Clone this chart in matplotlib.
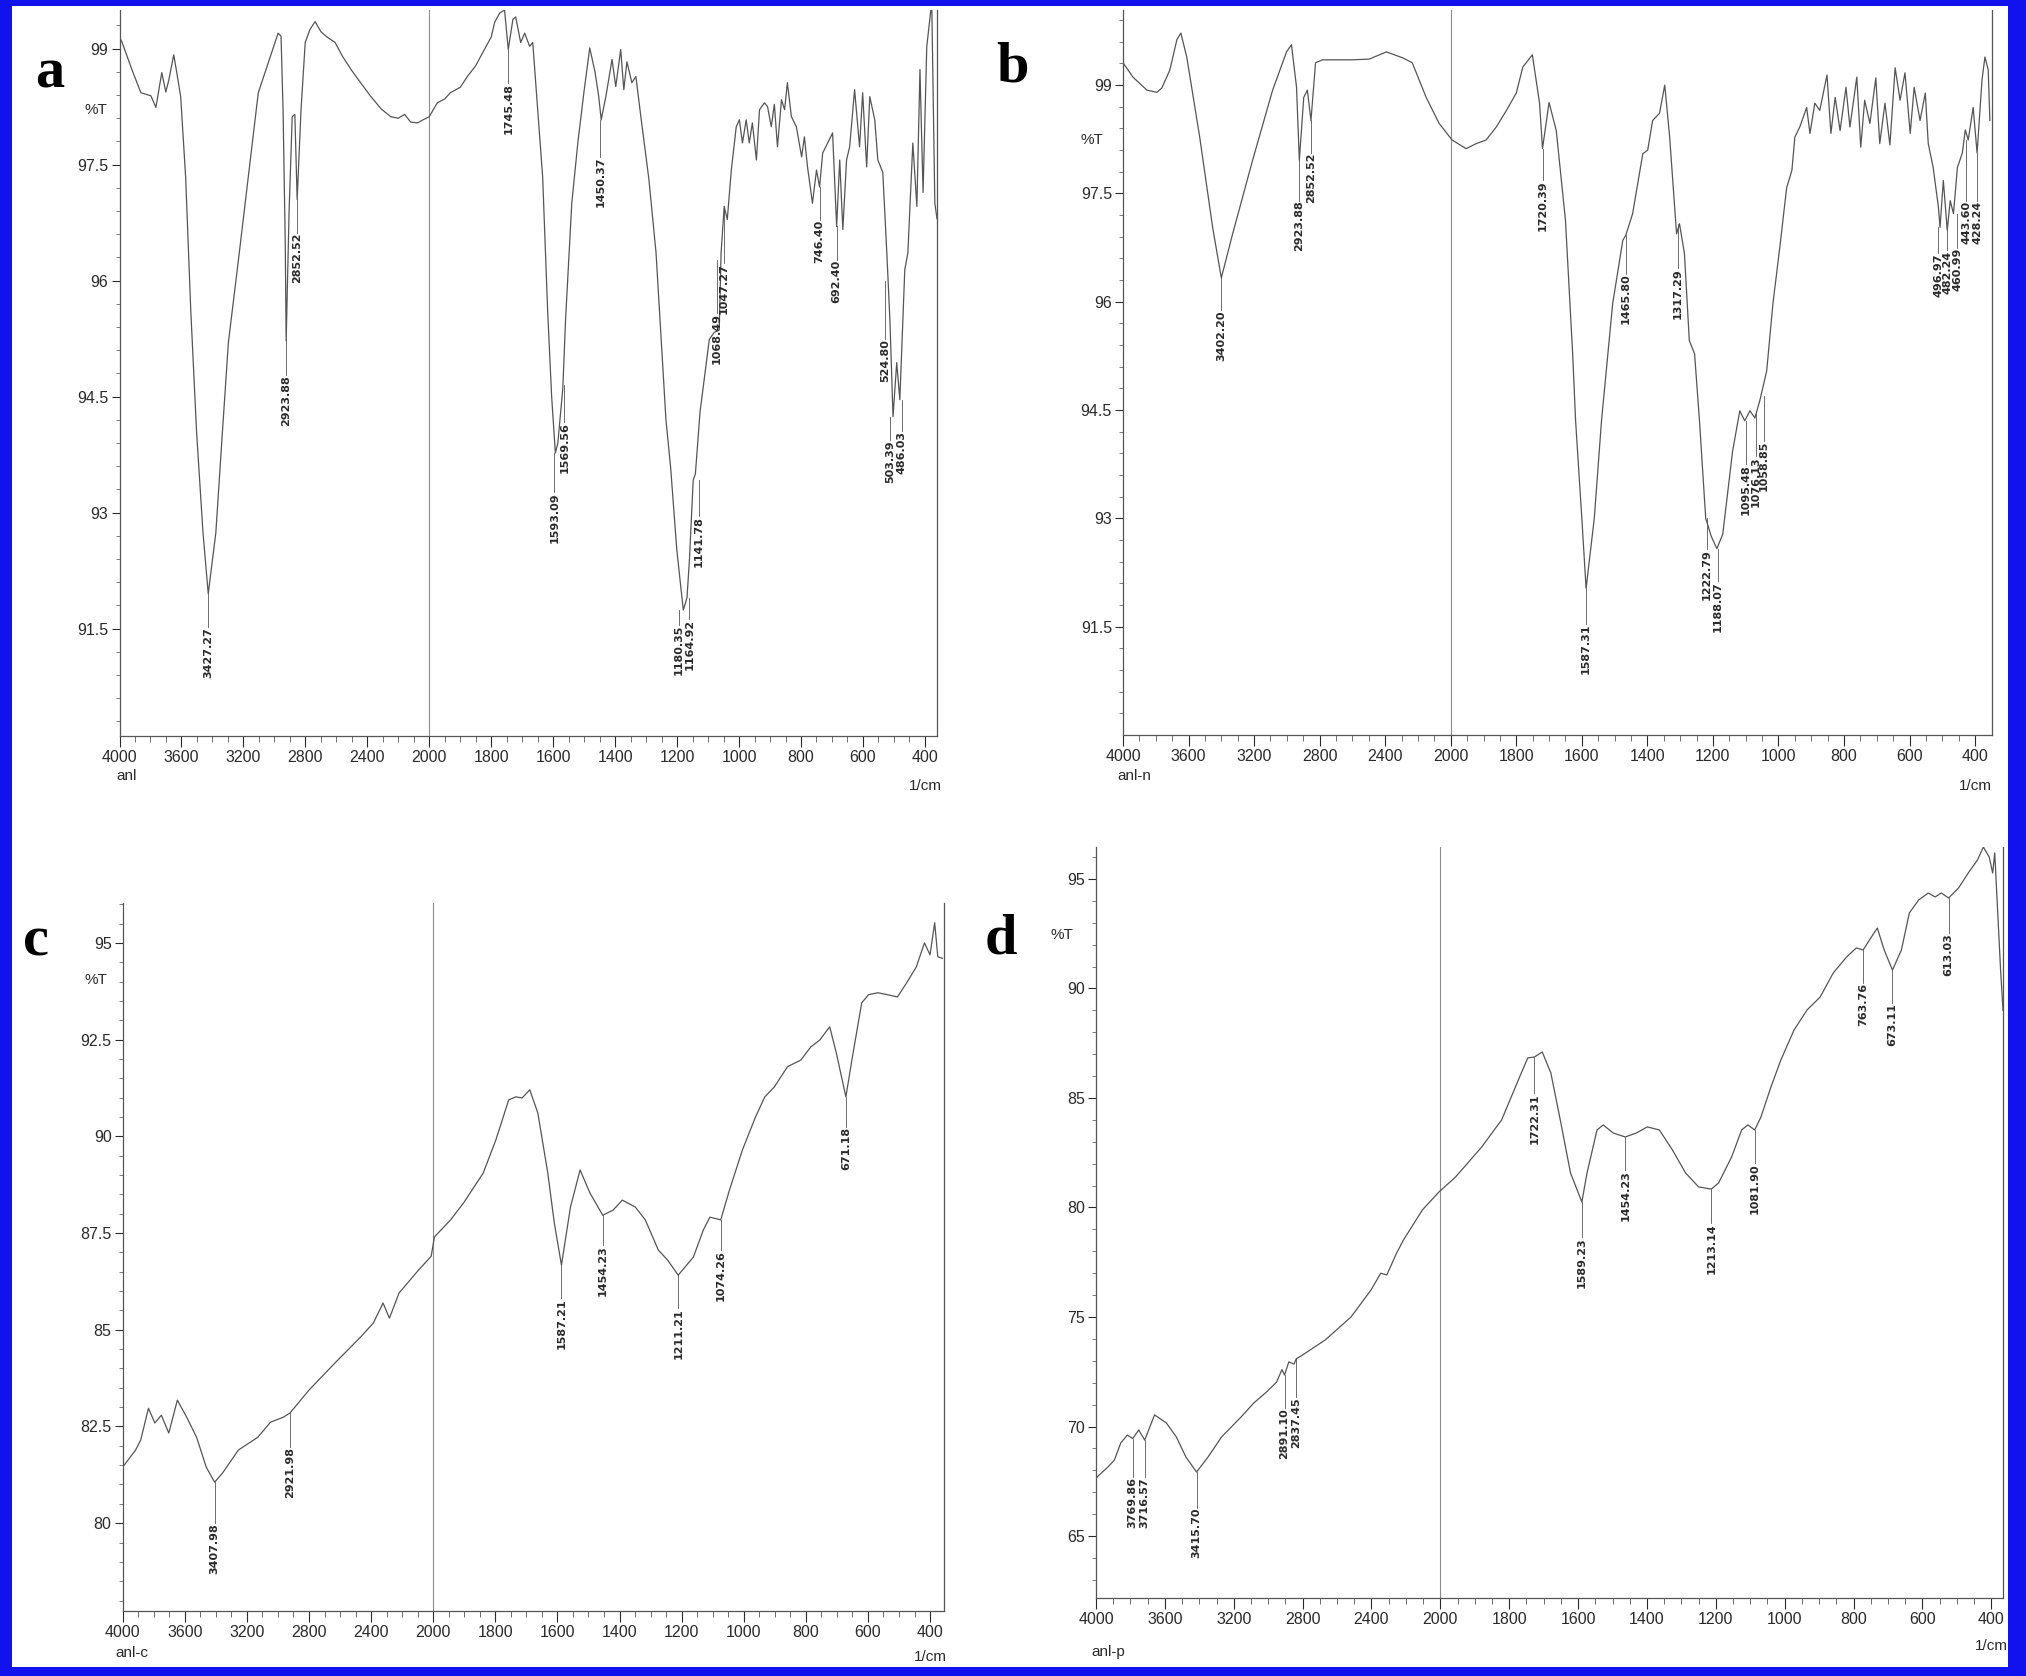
import numpy as np
import matplotlib
matplotlib.use("Agg")
from matplotlib import pyplot as plt
from matplotlib import font_manager
from matplotlib.patches import Rectangle
from matplotlib.ticker import FixedLocator, FuncFormatter, NullFormatter

# ---- spectrum a (anl) ----
WN_A = [4000, 3983, 3920, 3862, 3797, 3765, 3727, 3701, 3681, 3650,
        3631, 3605, 3573, 3540, 3502, 3461, 3427, 3378, 3336, 3297,
        3232, 3104, 2976, 2957, 2944, 2930, 2924, 2905, 2885, 2868,
        2853, 2828, 2801, 2770, 2737, 2700, 2660, 2608, 2560, 2505,
        2440, 2377, 2310, 2249, 2200, 2159, 2120, 2075, 2040, 2000,
        1974, 1950, 1932, 1900, 1877, 1850, 1822, 1800, 1789, 1773,
        1757, 1745, 1730, 1721, 1705, 1692, 1676, 1666, 1650, 1634,
        1618, 1605, 1593, 1585, 1576, 1569, 1560, 1540, 1520, 1501,
        1482, 1465, 1453, 1445, 1430, 1410, 1398, 1382, 1372, 1362,
        1346, 1333, 1317, 1291, 1268, 1249, 1236, 1221, 1201, 1180,
        1168, 1160, 1148, 1141, 1126, 1096, 1080, 1064, 1058, 1048,
        1038, 1025, 1009, 999, 989, 977, 967, 957, 944, 934,
        918, 908, 896, 886, 876, 863, 853, 844, 831, 815,
        798, 789, 779, 763, 750, 740, 730, 714, 698, 685,
        675, 665, 653, 643, 627, 611, 601, 588, 578, 562,
        552, 536, 523, 513, 503, 491, 481, 465, 455, 439,
        426, 416, 406, 394, 378, 368, 361]
T_A = [99.15, 99.08, 98.73, 98.43, 98.39, 98.24, 98.69, 98.44, 98.60, 98.92,
       98.70, 98.38, 97.34, 95.62, 94.03, 92.74, 91.95, 92.74, 94.03, 95.20,
       96.27, 98.43, 99.20, 99.16, 98.21, 96.50, 95.22, 96.90, 98.12, 98.15,
       97.05, 98.21, 99.08, 99.25, 99.35, 99.22, 99.15, 99.08, 98.90, 98.73,
       98.55, 98.38, 98.22, 98.12, 98.10, 98.15, 98.05, 98.04, 98.08, 98.12,
       98.30, 98.35, 98.43, 98.50, 98.64, 98.78, 98.99, 99.15, 99.34, 99.46,
       99.50, 98.99, 99.38, 99.41, 99.08, 99.20, 99.03, 99.08, 98.21, 97.34,
       95.62, 94.50, 93.77, 93.90, 94.30, 94.60, 95.50, 97.00, 97.80, 98.43,
       99.01, 98.70, 98.38, 98.08, 98.38, 98.86, 98.51, 98.99, 98.47, 98.83,
       98.56, 98.64, 98.12, 97.31, 96.36, 95.07, 94.20, 93.59, 92.52, 91.74,
       91.90, 92.40, 93.42, 93.50, 94.30, 95.24, 95.33, 95.36, 96.36, 96.96,
       96.79, 97.43, 97.99, 98.08, 97.78, 98.08, 97.78, 98.04, 97.56, 98.21,
       98.30, 98.25, 97.99, 98.28, 97.73, 98.34, 98.21, 98.56, 98.12, 97.99,
       97.60, 97.86, 97.47, 97.00, 97.43, 97.21, 97.65, 97.78, 97.91, 96.70,
       97.56, 96.66, 97.56, 97.73, 98.47, 97.73, 98.43, 97.47, 98.38, 98.08,
       97.56, 97.40, 96.36, 95.49, 94.24, 94.94, 94.46, 96.14, 96.36, 97.78,
       96.96, 98.73, 97.14, 99.03, 99.60, 97.00, 96.80]
LABELS_A = ["3427.27", "2923.88", "2852.52", "1745.48", "1593.09", "1569.56",
            "1450.37", "1180.35", "1164.92", "1141.78", "1068.49", "1047.27",
            "746.40", "692.40", "524.80", "503.39", "486.03"]

# ---- spectrum b (anl-n) ----
WN_B = [4000, 3939, 3854, 3793, 3763, 3714, 3671, 3647, 3611, 3532,
        3453, 3400, 3331, 3209, 3087, 3002, 2972, 2941, 2924, 2897,
        2875, 2853, 2825, 2783, 2698, 2600, 2497, 2393, 2296, 2235,
        2150, 2071, 1996, 1953, 1922, 1892, 1861, 1830, 1800, 1780,
        1751, 1729, 1720, 1700, 1678, 1650, 1628, 1619, 1600, 1587,
        1562, 1540, 1506, 1475, 1466, 1445, 1414, 1399, 1384, 1363,
        1347, 1332, 1311, 1302, 1287, 1272, 1256, 1241, 1222, 1205,
        1188, 1170, 1140, 1118, 1103, 1087, 1072, 1057, 1036, 1017,
        996, 975, 959, 950, 935, 914, 904, 889, 874, 852,
        840, 827, 812, 794, 782, 761, 749, 737, 721, 703,
        691, 675, 660, 644, 629, 614, 598, 586, 568, 552,
        543, 528, 512, 507, 497, 485, 476, 466, 454, 439,
        430, 421, 406, 394, 379, 370, 360, 355]
T_B = [99.31, 99.11, 98.93, 98.90, 98.96, 99.21, 99.63, 99.72, 99.39, 98.28,
       97.03, 96.33, 96.94, 97.96, 98.93, 99.46, 99.56, 98.97, 97.96, 98.83,
       98.93, 98.51, 99.31, 99.35, 99.35, 99.35, 99.36, 99.46, 99.38, 99.31,
       98.83, 98.47, 98.24, 98.12, 98.19, 98.24, 98.42, 98.65, 98.89, 99.25,
       99.42, 98.75, 98.12, 98.76, 98.37, 97.13, 95.28, 94.35, 93.00, 92.03,
       93.00, 94.35, 95.97, 96.85, 96.92, 97.22, 98.05, 98.10, 98.51, 98.61,
       99.00, 98.28, 96.94, 97.08, 96.67, 95.46, 95.28, 94.35, 93.00, 92.75,
       92.58, 92.78, 93.93, 94.49, 94.35, 94.49, 94.39, 94.63, 95.04, 95.97,
       96.75, 97.58, 97.82, 98.28, 98.42, 98.69, 98.33, 98.75, 98.65, 99.14,
       98.33, 98.83, 98.37, 98.97, 98.42, 99.11, 98.14, 98.79, 98.47, 99.10,
       98.19, 98.75, 98.17, 99.24, 98.79, 99.17, 98.33, 98.97, 98.51, 98.89,
       98.19, 97.86, 97.31, 97.03, 97.68, 96.99, 97.40, 97.22, 97.86, 98.06,
       98.38, 98.24, 98.69, 98.06, 99.07, 99.39, 99.21, 98.51]
LABELS_B = ["3402.20", "2923.88", "2852.52", "1720.39", "1587.31", "1465.80",
            "1317.29", "1222.79", "1188.07", "1095.48", "1076.13", "1058.85",
            "496.97", "482.24", "460.99", "443.60", "428.24"]

# ---- spectrum c (anl-c) ----
WN_C = [4000, 3917, 3884, 3834, 3793, 3751, 3703, 3648, 3588, 3524,
        3462, 3408, 3358, 3255, 3130, 3048, 2965, 2922, 2800, 2633,
        2468, 2386, 2323, 2282, 2220, 2095, 2013, 1996, 1944, 1902,
        1839, 1798, 1757, 1734, 1714, 1689, 1663, 1631, 1610, 1587,
        1558, 1527, 1495, 1454, 1421, 1391, 1349, 1317, 1275, 1245,
        1211, 1162, 1130, 1109, 1074, 1046, 1004, 962, 932, 901,
        859, 816, 784, 755, 723, 702, 671, 650, 620, 598,
        568, 537, 505, 475, 444, 418, 400, 385, 375, 360]
T_C = [81.45, 81.89, 82.15, 82.97, 82.59, 82.79, 82.33, 83.18, 82.74, 82.22,
       81.45, 81.06, 81.29, 81.89, 82.22, 82.61, 82.74, 82.85, 83.44, 84.14,
       84.81, 85.17, 85.69, 85.30, 85.95, 86.54, 86.90, 87.40, 87.84, 88.28,
       89.05, 89.91, 90.94, 91.02, 90.99, 91.20, 90.60, 89.05, 87.76, 86.67,
       88.17, 89.13, 88.53, 87.96, 88.09, 88.35, 88.17, 87.84, 87.06, 86.80,
       86.41, 86.88, 87.58, 87.91, 87.84, 88.61, 89.65, 90.50, 91.02, 91.28,
       91.80, 91.97, 92.31, 92.49, 92.83, 92.16, 91.02, 92.05, 93.45, 93.66,
       93.71, 93.66, 93.60, 93.97, 94.38, 95.00, 94.69, 95.52, 94.64, 94.60]
LABELS_C = ["3407.98", "2921.98", "1587.21", "1454.23", "1211.21", "1074.26", "671.18"]

# ---- spectrum d (anl-p) ----
WN_D = [4000, 3931, 3893, 3856, 3818, 3787, 3752, 3717, 3660, 3591,
        3533, 3478, 3416, 3349, 3271, 3158, 3084, 3009, 2951, 2920,
        2905, 2880, 2850, 2836, 2813, 2669, 2519, 2403, 2346, 2311,
        2254, 2214, 2104, 2008, 1956, 1880, 1822, 1765, 1746, 1727,
        1704, 1679, 1650, 1622, 1589, 1574, 1545, 1527, 1498, 1463,
        1431, 1399, 1364, 1326, 1288, 1250, 1213, 1192, 1154, 1125,
        1107, 1087, 1069, 1040, 1011, 973, 935, 897, 859, 820,
        792, 772, 754, 731, 711, 687, 661, 638, 611, 583,
        563, 545, 524, 495, 467, 440, 423, 406, 396, 390,
        373, 366]
T_D = [67.65, 68.15, 68.47, 69.25, 69.61, 69.45, 69.84, 69.38, 70.53, 70.16,
       69.52, 68.61, 67.92, 68.61, 69.52, 70.43, 71.07, 71.58, 72.03, 72.60,
       72.35, 72.95, 72.85, 73.10, 73.20, 73.95, 75.00, 76.23, 77.00, 76.92,
       77.92, 78.52, 79.89, 80.71, 81.39, 82.76, 84.00, 86.14, 86.83, 86.87,
       87.10, 86.14, 83.86, 81.58, 80.25, 81.58, 83.54, 83.77, 83.40, 83.22,
       83.40, 83.68, 83.54, 82.63, 81.58, 80.94, 80.84, 81.12, 82.31, 83.54,
       83.77, 83.54, 84.13, 85.50, 86.74, 88.10, 89.02, 89.61, 90.71, 91.44,
       91.85, 91.76, 92.21, 92.76, 91.76, 90.84, 91.76, 93.45, 94.04, 94.36,
       94.18, 94.36, 94.13, 94.59, 95.27, 95.87, 96.46, 96.00, 95.27, 96.19,
       90.84, 89.00]
LABELS_D = ["3769.86", "3716.57", "3415.70", "2891.10", "2837.45", "1722.31",
            "1589.23", "1454.23", "1213.14", "1081.90", "763.76", "673.11", "613.03"]

X_MAJOR = [4000, 3600, 3200, 2800, 2400, 2000, 1800, 1600, 1400, 1200, 1000, 800, 600, 400]

# where each peak label sits: (x, top of leader line, top of text), in data units
LABEL_POS_A = [(3427, 91.98, 91.52), (2924, 95.24, 94.78), (2853, 97.05, 96.62),
               (1745, 98.99, 98.56), (1596, 93.77, 93.26), (1564, 94.65, 94.17),
               (1448, 98.08, 97.60), (1195, 91.74, 91.55), (1160, 91.90, 91.62),
               (1130, 93.42, 92.95), (1072, 96.27, 95.58), (1048, 96.96, 96.23),
               (740, 97.21, 96.79), (685, 96.70, 96.27), (528, 96.00, 95.24),
               (513, 94.24, 93.94), (474, 94.46, 94.05)]
LABEL_POS_B = [(3400, 96.33, 95.88), (2924, 97.96, 97.40), (2853, 98.51, 98.06),
               (1720, 98.12, 97.68), (1587, 92.03, 91.54), (1466, 96.92, 96.39),
               (1307, 97.08, 96.47), (1218, 93.00, 92.58), (1185, 92.58, 92.13),
               (1100, 94.35, 93.75), (1070, 94.44, 93.86), (1045, 94.70, 94.07),
               (512, 97.03, 96.67), (485, 96.99, 96.71), (454, 97.22, 96.75),
               (427, 98.24, 97.40), (393, 98.06, 97.40)]
LABEL_POS_C = [(3408, 81.06, 80.00), (2922, 82.85, 81.97), (1587, 86.67, 85.82),
               (1454, 87.96, 87.19), (1211, 86.41, 85.56), (1074, 87.84, 87.06),
               (671, 91.02, 90.24)]
LABEL_POS_D = [(3787, 69.45, 67.69), (3717, 69.38, 67.69), (3416, 67.92, 66.28),
               (2905, 72.35, 70.84), (2836, 73.10, 71.35), (1727, 86.87, 85.23),
               (1589, 80.25, 78.65), (1463, 83.22, 81.71), (1213, 80.84, 79.29),
               (1087, 83.54, 82.03), (772, 91.76, 90.25), (687, 90.84, 89.34),
               (524, 94.13, 92.53)]

FIG_W, FIG_H = 2026, 1676
CURVE = "#555555"
INK = "#2a2a2a"

_installed = {f.name for f in font_manager.fontManager.ttflist}
TICK_FONT = "Liberation Sans Narrow" if "Liberation Sans Narrow" in _installed else "Liberation Sans"


def fwd(x):
    # the instrument plots 4000-2000 at half the scale of 2000-400
    x = np.asarray(x, dtype=float)
    return np.where(x > 2000, 2000 + (x - 2000) / 2.0, x)


def inv(u):
    u = np.asarray(u, dtype=float)
    return np.where(u > 2000, 2000 + (u - 2000) * 2.0, u)


def px_rect(left, top, right, bottom):
    return [left / FIG_W, 1 - bottom / FIG_H, (right - left) / FIG_W, (bottom - top) / FIG_H]


def draw_panel(fig, rect, wn, tr, labels, label_pos, ylim, xright, ymajor, yminor,
               sample, pct_t, pct_dx, sub_dx, sub_dy, cm_dy):
    ax = fig.add_axes(rect)
    ax.set_facecolor("white")
    ax.set_xscale("function", functions=(fwd, inv))
    ax.plot(wn, tr, color=CURVE, lw=0.9, zorder=3)
    ax.axvline(2000, color="#8c8c8c", lw=0.8, zorder=1)
    ax.set_xlim(4000, xright)
    ax.set_ylim(*ylim)

    xminor = list(range(3900, 2000, -100)) + list(range(1950, int(xright), -50))
    ax.xaxis.set_major_locator(FixedLocator(X_MAJOR))
    ax.xaxis.set_minor_locator(FixedLocator(xminor))
    ax.yaxis.set_major_locator(FixedLocator(ymajor))
    ax.yaxis.set_minor_locator(FixedLocator(yminor))
    fmt = FuncFormatter(lambda v, p: f"{v:g}")
    ax.xaxis.set_major_formatter(fmt)
    ax.yaxis.set_major_formatter(fmt)
    ax.xaxis.set_minor_formatter(NullFormatter())
    ax.yaxis.set_minor_formatter(NullFormatter())

    ax.tick_params(axis="x", which="major", direction="out", length=8, width=0.8,
                   pad=2, labelsize=11.5, labelfontfamily=TICK_FONT, colors=INK)
    ax.tick_params(axis="x", which="minor", direction="out", length=4, width=0.6, colors="#555")
    ax.tick_params(axis="y", which="major", direction="out", length=6, width=0.8,
                   pad=2, labelsize=11.5, labelfontfamily=TICK_FONT, colors=INK)
    ax.tick_params(axis="y", which="minor", direction="out", length=3, width=0.6, colors="#666")

    ax.spines["top"].set_visible(False)
    for side in ("left", "right", "bottom"):
        ax.spines[side].set_color("#555555")
        ax.spines[side].set_linewidth(0.9)

    for text, (x, t_line, t_text) in zip(labels, label_pos):
        ax.plot([x, x], [t_line, t_text], color="#555555", lw=0.6, zorder=2)
        ax.text(x, t_text, text, rotation=90, ha="center", va="top",
                fontsize=8, fontweight="bold", color=INK, zorder=4)

    ax.annotate("%T", xy=(0, pct_t), xycoords=ax.get_yaxis_transform(),
                xytext=(pct_dx, 0), textcoords="offset pixels", ha="center", va="center",
                fontsize=11, family=TICK_FONT, color=INK)
    ax.annotate(sample, xy=(4000, 0), xycoords=ax.get_xaxis_transform(),
                xytext=(sub_dx, sub_dy), textcoords="offset pixels", ha="center", va="center",
                fontsize=11, family=TICK_FONT, color=INK)
    ax.annotate("1/cm", xy=(400, 0), xycoords=ax.get_xaxis_transform(),
                xytext=(0, cm_dy), textcoords="offset pixels", ha="center", va="center",
                fontsize=11, family=TICK_FONT, color=INK)
    return ax


def main():
    fig = plt.figure(figsize=(FIG_W / 100, FIG_H / 100), dpi=100)
    fig.patch.set_facecolor("#1212ee")
    fig.add_artist(Rectangle((12 / FIG_W, 9 / FIG_H), (FIG_W - 30) / FIG_W, (FIG_H - 15) / FIG_H,
                             transform=fig.transFigure, facecolor="white",
                             edgecolor="none", zorder=-5))

    y_ab = [91.5, 93, 94.5, 96, 97.5, 99]
    draw_panel(fig, px_rect(119.5, 10, 937, 736), WN_A, T_A, LABELS_A, LABEL_POS_A,
               (90.11, 99.5), 361, y_ab, np.arange(90.3, 99.45, 0.3),
               "anl", 98.21, -24, 7, -40, -50)
    draw_panel(fig, px_rect(1123, 10, 1991.5, 735), WN_B, T_B, LABELS_B, LABEL_POS_B,
               (90.0, 100.04), 350, y_ab, np.arange(90.3, 100.0, 0.3),
               "anl-n", 98.24, -31, 11, -41, -51)
    draw_panel(fig, px_rect(122.7, 903, 944, 1611), WN_C, T_C, LABELS_C, LABEL_POS_C,
               (77.73, 96.03), 355, [80, 82.5, 85, 87.5, 90, 92.5, 95],
               np.arange(78, 96.01, 0.5), "anl-c", 94.04, -27, 9, -42, -46)
    draw_panel(fig, px_rect(1096, 847, 2003, 1598), WN_D, T_D, LABELS_D, LABEL_POS_D,
               (62.17, 96.46), 366, [65, 70, 75, 80, 85, 90, 95],
               np.arange(63, 96.01, 1.0), "anl-p", 92.44, -34, 12, -54, -48)

    # panel letters
    for letter, (x, y) in zip("abcd", [(50, 73), (1012, 67), (36, 941), (1001, 939)]):
        fig.text(x / FIG_W, 1 - y / FIG_H, letter, fontsize=42, fontweight="bold",
                 family="Liberation Serif", ha="center", va="center", color="black")

    fig.savefig("out.png", dpi=100, facecolor=fig.get_facecolor())
    plt.close(fig)


if __name__ == "__main__":
    main()
